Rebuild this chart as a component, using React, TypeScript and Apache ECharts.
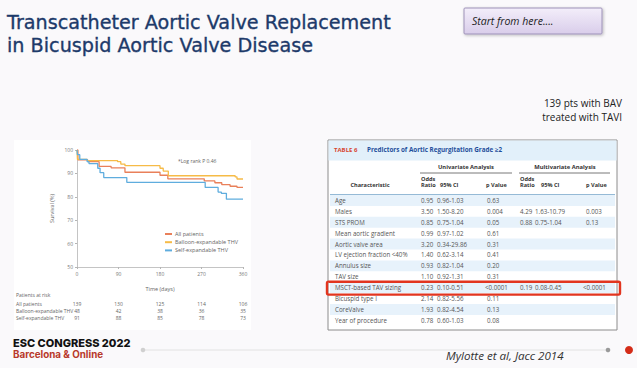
import { useEffect, useRef } from "react";
import * as echarts from "echarts";

// ---- Kaplan-Meier data (day, survival %) ----
const allPatients: [number, number][] = [
  [0, 100], [2, 95.8], [23, 95], [48, 93], [74, 92.4], [104, 90.5], [180, 89.2],
  [197, 87.7], [276, 86.8], [299, 86], [314, 85.2], [332, 84.5], [347, 84], [360, 84],
];
const balloonTHV: [number, number][] = [
  [0, 100], [1, 96], [22, 95.5], [88, 95], [95, 94], [104, 93.3], [180, 92.2],
  [187, 91], [198, 89], [343, 88.5], [347, 87.6], [360, 87.6],
];
const selfTHV: [number, number][] = [
  [0, 100], [1, 98], [6, 96], [22, 95], [26, 94.2], [45, 92.2], [50, 90.3],
  [58, 88.2], [108, 86.2], [278, 84], [306, 82], [313, 81.5], [324, 79], [360, 79],
];
const seriesNames = ["All patients", "Balloon-expandable THV", "Self-expandable THV"];
const seriesColors = ["#e9805a", "#f6bb47", "#5fadde"];

// ---- Patients at risk ----
const riskTimes = [0, 90, 180, 270, 360];
const riskAll = [139, 130, 125, 114, 106];
const riskBalloon = [48, 42, 38, 36, 35];
const riskSelf = [91, 88, 85, 78, 73];

// ---- Table 6 ----
const characteristics = [
  "Age", "Males", "STS PROM", "Mean aortic gradient", "Aortic valve area",
  "LV ejection fraction <40%", "Annulus size", "TAV size", "MSCT-based TAV sizing",
  "Bicuspid type I", "CoreValve", "Year of procedure",
];
const uniOR = ["0.95", "3.50", "0.85", "0.99", "3.20", "1.40", "0.93", "1.10", "0.23", "2.14", "1.93", "0.78"];
const uniCI = ["0.96-1.03", "1.50-8.20", "0.75-1.04", "0.97-1.02", "0.34-29.86", "0.62-3.14", "0.82-1.04", "0.92-1.31", "0.10-0.51", "0.82-5.56", "0.82-4.54", "0.60-1.03"];
const uniP = ["0.63", "0.004", "0.05", "0.61", "0.31", "0.41", "0.20", "0.31", "<0.0001", "0.11", "0.13", "0.08"];
const multiOR = ["", "4.29", "0.88", "", "", "", "", "", "0.19", "", "", ""];
const multiCI = ["", "1.63-10.79", "0.75-1.04", "", "", "", "", "", "0.08-0.45", "", "", ""];
const multiP = ["", "0.003", "0.13", "", "", "", "", "", "<0.0001", "", "", ""];
const highlightRow = 8;

const GRID = { left: 77, top: 150, width: 166, height: 117 };
const XMAX = 360;

const FONT = "'Open Sans', 'Noto Sans', sans-serif";

function txt(
  text: string, x: number, y: number,
  o: { size?: number; weight?: any; fill?: string; align?: string; family?: string; style?: string; stroke?: number } = {}
) {
  const s: any = {
    text,
    fontSize: o.size || 5.5,
    fontWeight: o.weight || "normal",
    fontStyle: o.style || "normal",
    fontFamily: o.family || FONT,
    fill: o.fill || "#444",
    align: o.align || "left",
    textAlign: o.align || "left",
    verticalAlign: "middle",
    textVerticalAlign: "middle",
  };
  if (o.stroke) {
    s.stroke = o.fill || "#444";
    s.lineWidth = o.stroke;
  }
  return { type: "text", x, y, z: 10, style: s };
}

export default function App() {
  const ref = useRef<HTMLDivElement>(null);
  useEffect(() => {
    if (!ref.current) return;
    const chart = echarts.init(ref.current, null, { renderer: "svg" });
    const g: any[] = [];

    // panels
    g.push({ type: "rect", z: -5, shape: { x: 14, y: 140, width: 237, height: 190 }, style: { fill: "#ffffff" } });
    g.push({ type: "rect", z: -5, shape: { x: 328, y: 140, width: 289, height: 190 }, style: { fill: "#ffffff", stroke: "#8c8c8c", lineWidth: 1 } });
    g.push({ type: "rect", z: -4, shape: { x: 328.5, y: 140.5, width: 288, height: 20 }, style: { fill: "#e2f0fa" } });

    // title
    const tf = "'DejaVu Sans', sans-serif";
    g.push(txt("Transcatheter Aortic Valve Replacement", 7, 22, { size: 19.2, fill: "#1d3a6a", family: tf, stroke: 0.35 }));
    g.push(txt("in Bicuspid Aortic Valve Disease", 7, 45, { size: 19.2, fill: "#1d3a6a", family: tf, stroke: 0.35 }));

    // start box
    g.push({
      type: "rect", z: 5,
      shape: { x: 464, y: 8, width: 138, height: 26, r: 1 },
      style: {
        fill: new echarts.graphic.LinearGradient(0, 0, 0, 1, [
          { offset: 0, color: "#f3eefa" }, { offset: 1, color: "#d9cdea" },
        ]),
        stroke: "#9d92b8", lineWidth: 1,
        shadowBlur: 3, shadowColor: "rgba(0,0,0,0.25)", shadowOffsetX: 1, shadowOffsetY: 1,
      },
    });
    g.push(txt("Start from here....", 472, 21, { size: 10.5, style: "italic", fill: "#222", family: "'Open Sans', sans-serif" }));

    // note
    g.push(txt("139 pts with BAV", 622, 103, { size: 10, align: "right", fill: "#222" }));
    g.push(txt("treated with TAVI", 622, 117, { size: 10, align: "right", fill: "#222" }));

    // chart annotations
    g.push(txt("*Log rank P 0.46", 178, 161, { size: 5, fill: "#666" }));
    g.push(txt("Patients at risk", 16, 295, { size: 5, fill: "#666" }));
    const risks = [riskAll, riskBalloon, riskSelf];
    risks.forEach((row, r) => {
      const y = 304 + r * 7;
      g.push(txt(seriesNames[r], 16, y, { size: 5, fill: "#666" }));
      row.forEach((v, i) => {
        const x = GRID.left + (riskTimes[i] / XMAX) * GRID.width;
        g.push(txt(String(v), x, y, { size: 5, fill: "#666", align: "center" }));
      });
    });

    // table header
    g.push(txt("TABLE 6", 334, 149.5, { size: 6, weight: "bold", fill: "#d8452f" }));
    g.push(txt("Predictors of Aortic Regurgitation Grade \u22652", 367, 149.5, { size: 6.3, weight: "bold", fill: "#1f4f9c" }));
    g.push(txt("Univariate Analysis", 466, 167, { size: 5.8, weight: "bold", fill: "#333", align: "center" }));
    g.push(txt("Multivariate Analysis", 565, 167, { size: 5.8, weight: "bold", fill: "#333", align: "center" }));
    g.push({ type: "line", z: 6, shape: { x1: 420, y1: 173, x2: 512, y2: 173 }, style: { stroke: "#555", lineWidth: 0.8 } });
    g.push({ type: "line", z: 6, shape: { x1: 519, y1: 173, x2: 610, y2: 173 }, style: { stroke: "#555", lineWidth: 0.8 } });
    const hdr = { size: 5.6, weight: "bold", fill: "#333" } as any;
    g.push(txt("Characteristic", 370, 185, { ...hdr, align: "center" }));
    g.push(txt("Odds", 421, 178.5, hdr));
    g.push(txt("Ratio", 421, 185, hdr));
    g.push(txt("Odds", 520, 178.5, hdr));
    g.push(txt("Ratio", 520, 185, hdr));
    g.push(txt("95% CI", 440, 185, hdr));
    g.push(txt("p Value", 486, 185, hdr));
    g.push(txt("95% CI", 541, 185, hdr));
    g.push(txt("p Value", 586, 185, hdr));
    g.push({ type: "line", z: 6, shape: { x1: 330, y1: 194.5, x2: 615, y2: 194.5 }, style: { stroke: "#7aa8cc", lineWidth: 0.8 } });

    const rowTop = 195;
    const rowH = 10.9;
    characteristics.forEach((c, i) => {
      const yTop = rowTop + i * rowH;
      const y = yTop + rowH / 2;
      if (i % 2 === 0) {
        g.push({ type: "rect", z: -3, shape: { x: 330, y: yTop, width: 285, height: rowH }, style: { fill: "#e7f2fb" } });
      }
      const o = { size: 6.2, fill: "#555" };
      g.push(txt(c, 335, y, o));
      g.push(txt(uniOR[i], 421, y, o));
      g.push(txt(uniCI[i], 437, y, o));
      g.push(txt(uniP[i], uniP[i].startsWith("<") ? 485 : 487, y, o));
      if (multiOR[i]) g.push(txt(multiOR[i], 520, y, o));
      if (multiCI[i]) g.push(txt(multiCI[i], 535, y, o));
      if (multiP[i]) g.push(txt(multiP[i], multiP[i].startsWith("<") ? 583 : 586, y, o));
    });
    // red highlight box
    const hy = rowTop + highlightRow * rowH;
    g.push({ type: "rect", z: 12, shape: { x: 327, y: hy - 0.5, width: 293, height: rowH + 2, r: 1.5 }, style: { fill: "none", stroke: "#e2351f", lineWidth: 2.4 } });

    // footer
    g.push({ type: "line", z: 1, shape: { x1: 143, y1: 350, x2: 608, y2: 350 }, style: { stroke: "#e2e2e2", lineWidth: 1 } });
    g.push({ type: "circle", z: 2, shape: { cx: 143, cy: 350, r: 2.3 }, style: { fill: "#d0d0d0" } });
    g.push({ type: "circle", z: 2, shape: { cx: 608, cy: 350, r: 2.3 }, style: { fill: "#9a9a9a" } });
    g.push({ type: "circle", z: 2, shape: { cx: 629, cy: 350, r: 4 }, style: { fill: "#d42c18" } });
    g.push(txt("ESC CONGRESS 2022", 13, 343, { size: 11, weight: 800, fill: "#111", family: "Inter, 'Noto Sans', sans-serif" }));
    g.push(txt("Barcelona & Online", 13, 354.5, { size: 9.8, weight: 700, fill: "#b8392b", family: "Inter, 'Noto Sans', sans-serif" }));
    g.push(txt("Mylotte et al, Jacc 2014", 446, 355, { size: 11.6, style: "italic", fill: "#333" }));

    const mk = (name: string, data: [number, number][], color: string) => ({
      name, type: "line", step: "end", data, showSymbol: false, symbol: "none",
      lineStyle: { color, width: 1.3 }, itemStyle: { color }, z: 5,
    });

    chart.setOption({
      animation: false,
      backgroundColor: "#faf9fb",
      grid: { ...GRID, containLabel: false },
      legend: {
        orient: "vertical", left: 160, top: 226, itemWidth: 7, itemHeight: 2, itemGap: 2.2,
        icon: "rect",
        textStyle: { fontSize: 5.5, color: "#666", fontFamily: FONT, padding: [0, 0, 0, -2] },
        data: seriesNames,
      },
      xAxis: {
        type: "value", min: 0, max: XMAX, interval: 90,
        name: "Time (days)", nameLocation: "middle", nameGap: 19,
        nameTextStyle: { fontSize: 5.5, color: "#666", fontFamily: FONT },
        axisLine: { lineStyle: { color: "#b5b5b5", width: 0.8 } },
        axisTick: { length: 2, lineStyle: { color: "#b5b5b5" } },
        axisLabel: { fontSize: 5, color: "#777", margin: 4, fontFamily: FONT },
        splitLine: { show: false },
      },
      yAxis: {
        type: "value", min: 50, max: 100, interval: 10,
        name: "Survival (%)", nameLocation: "middle", nameGap: 22,
        nameTextStyle: { fontSize: 5.5, color: "#666", fontFamily: FONT },
        axisLine: { show: true, lineStyle: { color: "#b5b5b5", width: 0.8 } },
        axisTick: { show: true, length: 2, lineStyle: { color: "#b5b5b5" } },
        axisLabel: { fontSize: 5, color: "#777", margin: 4, fontFamily: FONT },
        splitLine: { show: false },
      },
      series: [
        mk(seriesNames[0], allPatients, seriesColors[0]),
        mk(seriesNames[1], balloonTHV, seriesColors[1]),
        mk(seriesNames[2], selfTHV, seriesColors[2]),
      ],
      graphic: { elements: g },
    });
    return () => chart.dispose();
  }, []);
  return <div ref={ref} style={{ position: "fixed", left: 0, top: 0, width: 637, height: 368 }} />;
}
